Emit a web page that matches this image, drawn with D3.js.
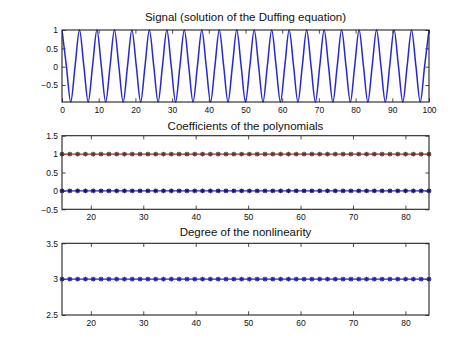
<!DOCTYPE html>
<html><head><meta charset="utf-8">
<script src="https://cdn.jsdelivr.net/npm/d3@7"></script>
<style>
body{margin:0;background:#fff}
text{font-family:"Liberation Sans",Arial,Helvetica,sans-serif}
</style></head>
<body><svg id="c" width="474" height="355"></svg>
<script>
// ---- Data ----
const signalT = [0,1.19,2.38,3.57,4.76,5.95,7.14,8.33,9.52,10.71,11.90,13.10,14.29,15.48,16.67,17.86,19.05,20.24,21.43,22.62,23.81,25.00,26.19,27.38,28.57,29.76,30.95,32.14,33.33,34.52,35.71,36.90,38.10,39.29,40.48,41.67,42.86,44.05,45.24,46.43,47.62,48.81,50.00,51.19,52.38,53.57,54.76,55.95,57.14,58.33,59.52,60.71,61.90,63.10,64.29,65.48,66.67,67.86,69.05,70.24,71.43,72.62,73.81,75.00,76.19,77.38,78.57,79.76,80.95,82.14,83.33,84.52,85.71,86.90,88.10,89.29,90.48,91.67,92.86,94.05,95.24,96.43,97.62,98.81,100];
const signalY = [1,0.02,-0.963,0.02, 1,0.02,-0.963,0.02, 1,0.02,-0.963,0.02, 1,0.02,-0.963,0.02, 1,0.02,-0.963,0.02, 1,0.02,-0.963,0.02, 1,0.02,-0.963,0.02,
                 1,0.02,-0.963,0.02, 1,0.02,-0.963,0.02, 1,0.02,-0.963,0.02, 1,0.02,-0.963,0.02, 1,0.02,-0.963,0.02, 1,0.02,-0.963,0.02, 1,0.02,-0.963,0.02,
                 1,0.02,-0.963,0.02, 1,0.02,-0.963,0.02, 1,0.02,-0.963,0.02, 1,0.02,-0.963,0.02, 1,0.02,-0.963,0.02, 1,0.02,-0.963,0.02, 1,0.02,-0.963,0.02, 1];
const coefX = [14.50,15.99,17.48,18.97,20.46,21.95,23.44,24.93,26.41,27.90,29.39,30.88,32.37,33.86,35.35,36.84,38.33,39.82,41.31,42.80,44.29,45.78,47.27,48.76,50.24,51.73,53.22,54.71,56.20,57.69,59.18,60.67,62.16,63.65,65.14,66.63,68.12,69.61,71.10,72.59,74.07,75.56,77.05,78.54,80.03,81.52,83.01,84.50];
const coefCubic = [1,1,1,1,1,1,1,1,1,1,1,1,1,1,1,1,1,1,1,1,1,1,1,1,1,1,1,1,1,1,1,1,1,1,1,1,1,1,1,1,1,1,1,1,1,1,1,1];
const coefOther = [0,0,0,0,0,0,0,0,0,0,0,0,0,0,0,0,0,0,0,0,0,0,0,0,0,0,0,0,0,0,0,0,0,0,0,0,0,0,0,0,0,0,0,0,0,0,0,0];
const degreeVals = [3,3,3,3,3,3,3,3,3,3,3,3,3,3,3,3,3,3,3,3,3,3,3,3,3,3,3,3,3,3,3,3,3,3,3,3,3,3,3,3,3,3,3,3,3,3,3,3];

const signalXTicks = [0,10,20,30,40,50,60,70,80,90,100];
const signalYTicks = [-0.5,0,0.5,1];
const coefYTicks = [-0.5,0,0.5,1,1.5];
const degreeYTicks = [2.5,3,3.5];
const windowXTicks = [20,30,40,50,60,70,80];
const titles = ["Signal (solution of the Duffing equation)","Coefficients of the polynomials","Degree of the nonlinearity"];

// ---- Layout ----
const svg = d3.select("#c");
const L = 62, R = 429;
const TICK = 3.7;
const fmt = d3.format("");

function panel(top, bottom, xDom, yDom, xTicks, yTicks, title, titleBase, id){
  const x = d3.scaleLinear().domain(xDom).range([L, R]);
  const y = d3.scaleLinear().domain(yDom).range([bottom, top]);
  const g = svg.append("g");
  g.append("clipPath").attr("id", id).append("rect")
    .attr("x", L).attr("y", top - 3).attr("width", R - L).attr("height", bottom - top + 6);
  const style = sel => {
    sel.select(".domain").remove();
    sel.selectAll(".tick line").attr("stroke", "#222").attr("stroke-width", 0.8);
    sel.selectAll(".tick text").attr("fill", "#111").style("font-size", "8.5px");
  };
  g.append("g").attr("transform", `translate(0,${bottom})`)
    .call(d3.axisBottom(x).tickValues(xTicks).tickSize(-TICK).tickPadding(5).tickFormat(fmt)).call(style);
  g.append("g").attr("transform", `translate(0,${top})`)
    .call(d3.axisTop(x).tickValues(xTicks).tickSize(-TICK).tickFormat("")).call(style);
  g.append("g").attr("transform", `translate(${L},0)`)
    .call(d3.axisLeft(y).tickValues(yTicks).tickSize(-TICK).tickPadding(4).tickFormat(fmt)).call(style);
  g.append("g").attr("transform", `translate(${R},0)`)
    .call(d3.axisRight(y).tickValues(yTicks).tickSize(-TICK).tickFormat("")).call(style);
  g.selectAll("g").attr("font-family", null);
  svg.append("text").attr("x", (L + R) / 2).attr("y", titleBase)
    .attr("text-anchor", "middle").style("font-size", "11.5px").attr("fill", "#111").text(title);
  return {x, y, g, top, bottom, id};
}

function box(p){
  p.g.append("rect").attr("x", L).attr("y", p.top).attr("width", R - L).attr("height", p.bottom - p.top)
    .attr("fill", "none").attr("stroke", "#222").attr("stroke-width", 1.1);
}

function stars(p, xs, ys, color){
  const s = 2.4, d = s * 0.75;
  const path = xs.map((xv, i) => {
    const cx = p.x(xv), cy = p.y(ys[i]);
    return `M${cx-s},${cy}L${cx+s},${cy}M${cx},${cy-s}L${cx},${cy+s}M${cx-d},${cy-d}L${cx+d},${cy+d}M${cx-d},${cy+d}L${cx+d},${cy-d}`;
  }).join("");
  p.g.append("path").attr("d", path).attr("stroke", color).attr("stroke-width", 1.1).attr("fill", "none");
}

function line(p, xs, ys, color, width, curve){
  const gen = d3.line().x((d, i) => p.x(xs[i])).y((d, i) => p.y(ys[i])).curve(curve || d3.curveLinear);
  p.g.append("path").datum(xs).attr("d", gen).attr("fill", "none")
    .attr("stroke", color).attr("stroke-width", width).attr("clip-path", `url(#${p.id})`);
}

// Panel 1: signal
const p1 = panel(30, 102, [0, 100], [-0.963, 1], signalXTicks, signalYTicks, titles[0], 20.5, "c1");
line(p1, signalT, signalY, "#2828d0", 1.5, d3.curveMonotoneX);
box(p1);

// Panel 2: coefficients
const p2 = panel(135.7, 209.3, [14.5, 84.5], [-0.5, 1.5], windowXTicks, coefYTicks, titles[1], 129.5, "c2");
line(p2, coefX, coefCubic, "#a83030", 1.3);
stars(p2, coefX, coefCubic, "#5e3838");
line(p2, coefX, coefOther, "#2a2ad0", 1.3);
stars(p2, coefX, coefOther, "#181870");
box(p2);

// Panel 3: degree
const p3 = panel(243.3, 315, [14.5, 84.5], [2.5, 3.5], windowXTicks, degreeYTicks, titles[2], 235.7, "c3");
line(p3, coefX, degreeVals, "#2a2ad0", 1.3);
stars(p3, coefX, degreeVals, "#2424a8");
box(p3);
</script></body></html>
